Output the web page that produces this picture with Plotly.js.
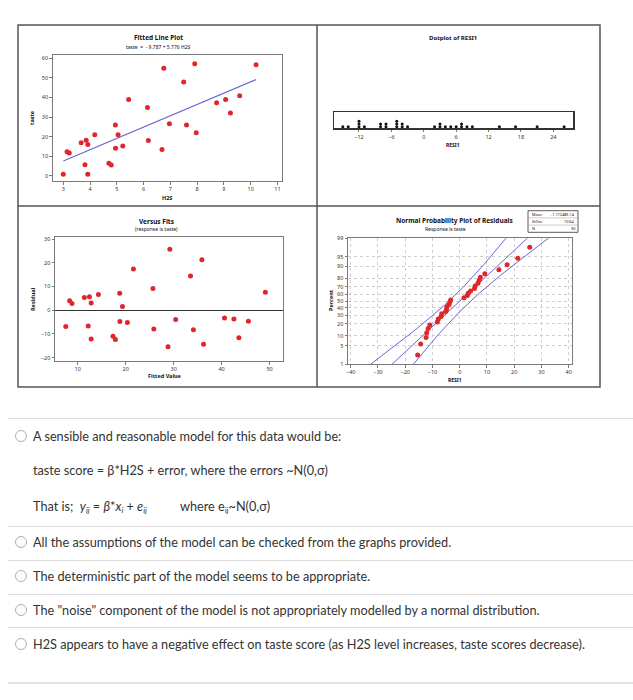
<!DOCTYPE html>
<html><head><meta charset="utf-8">
<script src="https://cdn.plot.ly/plotly-3.0.1.min.js"></script>
<style>
body{margin:0;background:#fff;width:633px;height:700px;overflow:hidden;font-family:Lato,'Open Sans',sans-serif;position:relative;}
#chart{position:absolute;left:0;top:0;width:633px;height:400px;}
.sep{position:absolute;left:8px;width:625px;height:1px;background:#dcdcdc;}
.q{position:absolute;left:33px;font-size:12.7px;color:#333;white-space:nowrap;line-height:16px;height:16px;}
.q sub{font-size:8px;vertical-align:-2px;line-height:0;}
.radio{position:absolute;left:15px;width:12px;height:12px;border:1px solid #b0b0b0;border-radius:50%;box-sizing:border-box;background:#fdfdfd;}
</style></head>
<body>
<div id="chart"></div>
<div class="sep" style="top:418px"></div>
<div class="radio" style="top:430px"></div>
<div class="q" style="top:428px">A sensible and reasonable model for this data would be:</div>
<div class="q" style="top:462px">taste score = β*H2S + error, where the errors ~N(0,σ)</div>
<div class="q" style="top:498px">That is;&nbsp; <i>y<sub>ij</sub></i> = <i>β</i>*<i>x<sub>i</sub></i> + <i>e<sub>ij</sub></i></div>
<div class="q" style="top:498px;left:180px">where</div>
<div class="q" style="top:498px;left:218px">e<sub>ij</sub>~N(0,σ)</div>
<div class="sep" style="top:526px"></div>
<div class="radio" style="top:536px"></div>
<div class="q" style="top:534px">All the assumptions of the model can be checked from the graphs provided.</div>
<div class="sep" style="top:560px"></div>
<div class="radio" style="top:570px"></div>
<div class="q" style="top:568px">The deterministic part of the model seems to be appropriate.</div>
<div class="sep" style="top:594px"></div>
<div class="radio" style="top:604px"></div>
<div class="q" style="top:602px">The "noise" component of the model is not appropriately modelled by a normal distribution.</div>
<div class="sep" style="top:627px"></div>
<div class="radio" style="top:638px"></div>
<div class="q" style="top:636px">H2S appears to have a negative effect on taste score (as H2S level increases, taste scores decrease).</div>
<div class="sep" style="top:682px;height:2px;background:#e3e3e3"></div>
<script>
// ---- data ----
const h2s   = [3.135,5.043,5.438,7.496,3.807,7.601,8.726,7.966,3.850,4.174,6.142,7.908,2.996,4.942,6.752,9.588,3.912,4.700,6.174,9.064,4.949,5.220,9.242,10.199,3.664,3.219,6.962,3.912,6.685,4.787];
const taste = [12.3,20.9,39.0,47.9,5.6,25.9,37.3,21.9,18.1,21.0,34.9,57.2,0.7,25.9,54.9,40.9,15.9,6.4,18.0,38.9,14.0,15.2,32.0,56.7,16.8,11.6,26.5,0.7,13.4,5.5];
const fits  = [8.32,19.34,21.62,33.51,12.20,34.12,40.61,36.23,12.45,14.32,25.69,35.89,7.52,18.76,29.21,45.59,12.81,17.36,25.87,42.57,18.80,20.36,43.60,49.12,11.38,8.81,30.43,12.81,28.83,17.86];
const resid = [3.98,1.56,17.38,14.39,-6.60,-8.22,-3.31,-14.33,5.65,6.68,9.21,21.31,-6.82,7.14,25.69,-4.69,3.09,-10.96,-7.87,-3.67,-4.80,-5.16,-11.60,7.58,5.42,2.79,-3.93,-12.11,-15.43,-12.36];
const sortedResid = [-15.43,-14.33,-12.36,-12.11,-11.60,-10.96,-8.22,-7.87,-6.82,-6.60,-5.16,-4.80,-4.69,-3.93,-3.67,-3.31,1.56,2.79,3.09,3.98,5.42,5.65,6.68,7.14,7.58,9.21,14.39,17.38,21.31,25.69];
const percentRank = [2.30,5.59,8.88,12.17,15.46,18.75,22.04,25.33,28.62,31.91,35.20,38.49,41.78,45.07,48.36,51.64,54.93,58.22,61.51,64.80,68.09,71.38,74.67,77.96,81.25,84.54,87.83,91.12,94.41,97.70];
const intercept = -9.787, slope = 5.776;
const residMean = 0, residSD = 10.64, nObs = 30, tCrit = 2.045;
const pctTicks = [1,5,10,20,30,40,50,60,70,80,90,95,99];
const statLabels = ['Mean','StDev','N'];
const statValues = ['-1.17248E-14','10.64','30'];

// ---- helpers ----
const W=633,H=400;
const fx=p=>p/W, fy=p=>1-p/H;
function probit(p){
  const a=[-3.969683028665376e+01,2.209460984245205e+02,-2.759285104469687e+02,1.383577518672690e+02,-3.066479806614716e+01,2.506628277459239e+00];
  const b=[-5.447609879822406e+01,1.615858368580409e+02,-1.556989798598866e+02,6.680131188771972e+01,-1.328068155288572e+01];
  const c=[-7.784894002430293e-03,-3.223964580411365e-01,-2.400758277161838e+00,-2.549732539343734e+00,4.374664141464968e+00,2.938163982698783e+00];
  const d=[7.784695709041462e-03,3.224671290700398e-01,2.445134137142996e+00,3.754408661907416e+00];
  const pl=0.02425; let q,r;
  if(p<pl){q=Math.sqrt(-2*Math.log(p));return (((((c[0]*q+c[1])*q+c[2])*q+c[3])*q+c[4])*q+c[5])/((((d[0]*q+d[1])*q+d[2])*q+d[3])*q+1);}
  if(p>1-pl){q=Math.sqrt(-2*Math.log(1-p));return -(((((c[0]*q+c[1])*q+c[2])*q+c[3])*q+c[4])*q+c[5])/((((d[0]*q+d[1])*q+d[2])*q+d[3])*q+1);}
  q=p-0.5;r=q*q;return (((((a[0]*r+a[1])*r+a[2])*r+a[3])*r+a[4])*r+a[5])*q/(((((b[0]*r+b[1])*r+b[2])*r+b[3])*r+b[4])*r+1);
}
const FONT="'Noto Sans', 'DejaVu Sans', sans-serif";
const RED='#e1262b', BLUE='#6767d2';

// dotplot stacking (bins of width 1)
const cnt={}, dotX=[], dotY=[];
resid.forEach(r=>{const b=Math.round(r);cnt[b]=(cnt[b]||0)+1;dotX.push(b);dotY.push(cnt[b]);});

// regression line
const hMin=Math.min(...h2s), hMax=Math.max(...h2s);
const regX=[hMin,hMax], regY=regX.map(v=>intercept+slope*v);

// normal plot lines
const zs=[];for(let z=-2.6;z<=2.61;z+=0.05)zs.push(z);
const midX=zs.map(z=>residMean+residSD*z);
const hw=z=>tCrit*residSD*Math.sqrt(1/nObs+z*z/(2*(nObs-1)));
const loX=zs.map(z=>residMean+residSD*z-hw(z));
const hiX=zs.map(z=>residMean+residSD*z+hw(z));

const traces=[
 {x:h2s,y:taste,type:'scatter',mode:'markers',xaxis:'x',yaxis:'y',marker:{color:RED,size:5}},
 {x:regX,y:regY,type:'scatter',mode:'lines',xaxis:'x',yaxis:'y',line:{color:BLUE,width:1.2}},
 {x:dotX,y:dotY,type:'scatter',mode:'markers',xaxis:'x2',yaxis:'y2',marker:{color:'#111',size:3}},
 {x:fits,y:resid,type:'scatter',mode:'markers',xaxis:'x3',yaxis:'y3',marker:{color:RED,size:5}},
 {x:midX,y:zs,type:'scatter',mode:'lines',xaxis:'x4',yaxis:'y4',line:{color:BLUE,width:1}},
 {x:loX,y:zs,type:'scatter',mode:'lines',xaxis:'x4',yaxis:'y4',line:{color:BLUE,width:1}},
 {x:hiX,y:zs,type:'scatter',mode:'lines',xaxis:'x4',yaxis:'y4',line:{color:BLUE,width:1}},
 {x:sortedResid,y:percentRank.map(p=>probit(p/100)),type:'scatter',mode:'markers',xaxis:'x4',yaxis:'y4',marker:{color:RED,size:5}}
];

const ax={showline:true,mirror:true,linecolor:'#7a7a7a',linewidth:1,ticks:'outside',ticklen:2.5,tickcolor:'#7a7a7a',tickwidth:1,
  tickfont:{size:5.5,color:'#333',family:FONT},showgrid:false,zeroline:false,fixedrange:true};

const ann=(t,x,y,s,extra)=>Object.assign({text:t,x:fx(x),y:fy(y),xref:'paper',yref:'paper',showarrow:false,xanchor:'center',yanchor:'middle',font:{size:s,color:'#111',family:FONT}},extra||{});

const annotations=[
 ann('<b>Fitted Line Plot</b>',158,38,6.5),
 ann('taste  =  - 9.787 + 5.776 H2S',158,47,5),
 ann('<b>taste</b>',32,118,5.5,{textangle:-90}),
 ann('<b>H2S</b>',167,197.5,5.5),
 ann('<b>Dotplot of RESI1</b>',453,38,6),
 ann('<b>RESI1</b>',453,144.5,5),
 ann('<b>Versus Fits</b>',156,221,6.5),
 ann('(response is taste)',156,229,5),
 ann('<b>Residual</b>',33,299,5.5,{textangle:-90}),
 ann('<b>Fitted Value</b>',165,376,5.5),
 ann('<b>Normal Probability Plot of Residuals</b>',454,220,6.5),
 ann('Response is taste',445,229,5),
 ann('<b>Percent</b>',331,300,5.5,{textangle:-90}),
 ann('<b>RESI1</b>',455,380,5)
];
const rowY=[214.3,221.5,228.7];
statLabels.forEach((l,i)=>{
  annotations.push(ann(l,530,rowY[i],3.8,{xanchor:'left'}));
  annotations.push(ann(statValues[i],576.5,rowY[i],3.8,{xanchor:'right'}));
});

const shapes=[
 {type:'rect',xref:'paper',yref:'paper',x0:fx(18),x1:fx(600),y0:fy(387),y1:fy(25),line:{color:'#555',width:1.5}},
 {type:'line',xref:'paper',yref:'paper',x0:fx(317),x1:fx(317),y0:fy(387),y1:fy(25),line:{color:'#555',width:1.5}},
 {type:'line',xref:'paper',yref:'paper',x0:fx(18),x1:fx(600),y0:fy(206),y1:fy(206),line:{color:'#555',width:1.5}},
 {type:'rect',xref:'paper',yref:'paper',x0:fx(528),x1:fx(578),y0:fy(232.3),y1:fy(210.7),line:{color:'#333',width:0.8}},
 {type:'line',xref:'paper',yref:'paper',x0:fx(528),x1:fx(578),y0:fy(217.9),y1:fy(217.9),line:{color:'#999',width:0.5}},
 {type:'line',xref:'paper',yref:'paper',x0:fx(528),x1:fx(578),y0:fy(225.1),y1:fy(225.1),line:{color:'#999',width:0.5}}
];

const layout={
 width:W,height:H,margin:{l:0,r:0,t:0,b:0},showlegend:false,paper_bgcolor:'#fff',plot_bgcolor:'#fff',
 font:{family:FONT},
 xaxis:Object.assign({},ax,{domain:[fx(52.7),fx(282)],anchor:'y',range:[2.6,11.17],tickvals:[3,4,5,6,7,8,9,10,11]}),
 yaxis:Object.assign({},ax,{domain:[fy(181),fy(55)],anchor:'x',range:[-2.7,61.7],tickvals:[0,10,20,30,40,50,60]}),
 xaxis2:Object.assign({},ax,{domain:[fx(334),fx(573.3)],anchor:'y2',range:[-16.63,27.7],tickvals:[-12,-6,0,6,12,18,24],linecolor:'#333',linewidth:1.2}),
 yaxis2:Object.assign({},ax,{domain:[fy(128.3),fy(112.3)],anchor:'x2',range:[0.4,6.3],ticks:'',showticklabels:false,linecolor:'#333',linewidth:1.2}),
 xaxis3:Object.assign({},ax,{domain:[fx(55),fx(283)],anchor:'y3',range:[5.27,52.8],tickvals:[10,20,30,40,50]}),
 yaxis3:Object.assign({},ax,{domain:[fy(361),fy(236.7)],anchor:'x3',range:[-21.4,31.0],tickvals:[-20,-10,0,10,20,30],zeroline:true,zerolinecolor:'#333',zerolinewidth:1}),
 xaxis4:Object.assign({},ax,{domain:[fx(348),fx(572)],anchor:'y4',range:[-41,41.2],tickvals:[-40,-30,-20,-10,0,10,20,30,40],showgrid:true,gridcolor:'#cfcfcf',griddash:'dot',gridwidth:1}),
 yaxis4:Object.assign({},ax,{domain:[fy(364),fy(238.3)],anchor:'x4',range:[probit(0.01),probit(0.99)],tickvals:pctTicks.map(p=>probit(p/100)),ticktext:pctTicks.map(String),showgrid:true,gridcolor:'#cfcfcf',griddash:'dot',gridwidth:1}),
 annotations:annotations,shapes:shapes
};
Plotly.newPlot('chart',traces,layout,{displayModeBar:false,staticPlot:true});
</script>
</body></html>
